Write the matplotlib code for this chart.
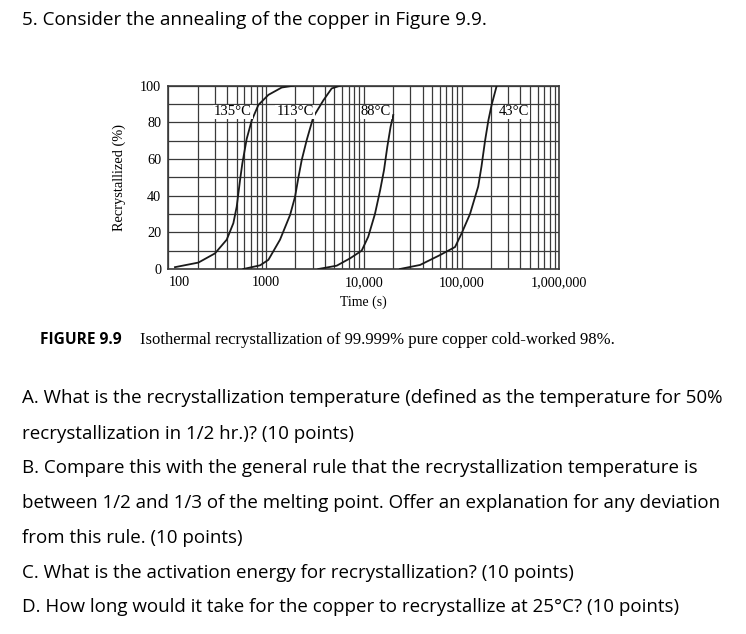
import matplotlib
matplotlib.use("Agg")
import matplotlib.pyplot as plt
from matplotlib.ticker import FixedLocator, NullFormatter

# curves (time in s, % recrystallized)
t135 = [117, 203, 300, 396, 463, 501, 542, 572, 634, 713, 835, 1057, 1445, 1900]
p135 = [1, 3.5, 8.5, 16, 25, 34, 48.5, 57.6, 71, 81, 89.5, 95, 99, 100]

t113 = [586, 869, 1057, 1390, 1762, 1982, 2144, 2318, 2608, 3050, 3856, 4690, 5710]
p113 = [0, 2, 5, 16, 29.5, 39.5, 50, 59.5, 70.4, 83, 92, 98.5, 100]

t88 = [3430, 5280, 7230, 9510, 11100, 13000, 14700, 16100, 17400, 18800, 20000]
p88 = [0, 1.8, 5.8, 10, 17.6, 30, 43, 54, 66.7, 77.6, 84]

t43 = [23400, 37600, 60200, 85800, 100300, 122000, 148000, 160000, 174000,
       188000, 203000, 229000]
p43 = [0, 2.2, 7.6, 12, 19.5, 30, 45, 56, 70, 81, 89.5, 100]

curves = [(t135, p135), (t113, p113), (t88, p88), (t43, p43)]
labels = ["135°C", "113°C", "88°C", "43°C"]
label_t = [459, 1977, 13340, 344000]
label_p = 85.7

xticks = [100, 1000, 10000, 100000, 1000000]
xticklabels = ["100", "1000", "10,000", "100,000", "1,000,000"]
yticks = [0, 20, 40, 60, 80, 100]

question = "5. Consider the annealing of the copper in Figure 9.9."
caption_head = "FIGURE 9.9"
caption = "Isothermal recrystallization of 99.999% pure copper cold-worked 98%."
lines = [
    "A. What is the recrystallization temperature (defined as the temperature for 50%",
    "recrystallization in 1/2 hr.)? (10 points)",
    "B. Compare this with the general rule that the recrystallization temperature is",
    "between 1/2 and 1/3 of the melting point. Offer an explanation for any deviation",
    "from this rule. (10 points)",
    "C. What is the activation energy for recrystallization? (10 points)",
    "D. How long would it take for the copper to recrystallize at 25°C? (10 points)",
]
line_y = [398, 434, 468, 503, 538, 573, 607]

W, H = 746, 634
fig = plt.figure(figsize=(W / 100, H / 100), dpi=100)
fig.patch.set_facecolor("white")

def fx(px):
    return px / W

def fy(py):
    return 1 - py / H

serif = "Liberation Serif"
sans = "Open Sans"
gridc = "#3a3a3a"

ax = fig.add_axes([fx(168.3), fy(269), fx(559.3) - fx(168.3), fy(85.7) - fy(269)])
ax.set_xscale("log")
ax.set_xlim(100, 1e6)
ax.set_ylim(0, 100)

minor = [m * 10 ** d for d in range(2, 6) for m in range(2, 10)]
ax.xaxis.set_major_locator(FixedLocator(xticks))
ax.xaxis.set_minor_locator(FixedLocator(minor))
ax.xaxis.set_minor_formatter(NullFormatter())
ax.set_yticks(range(0, 101, 10), minor=False)
ax.set_yticklabels([str(v) if v in yticks else "" for v in range(0, 101, 10)],
                   fontfamily=serif, fontsize=10.3)
ax.set_xticklabels(xticklabels, fontfamily=serif, fontsize=10.3)
ax.get_xticklabels()[0].set_horizontalalignment("left")
ax.tick_params(which="both", length=0, pad=5)
ax.grid(True, which="both", color=gridc, lw=0.9)
for s in ax.spines.values():
    s.set_color(gridc)
    s.set_linewidth(1.2)

for t, p in curves:
    ax.plot(t, p, color="#1a1a1a", lw=1.3, zorder=3)

for lab, lt in zip(labels, label_t):
    ax.text(lt, label_p, lab, fontfamily=serif, fontsize=10.5, ha="center", va="center",
            zorder=4, bbox=dict(facecolor="white", edgecolor="none", pad=0.6))

ax.set_xlabel("Time (s)", fontfamily=serif, fontsize=10, labelpad=5)
ax.set_ylabel("Recrystallized (%)", fontfamily=serif, fontsize=10.4, labelpad=10)

fig.text(fx(22), fy(20), question, fontfamily=sans, fontsize=13.6, va="center")
fig.text(fx(40), fy(340), caption_head, fontfamily=sans, fontsize=11.2,
         fontweight="bold", va="center")
fig.text(fx(140), fy(340), caption, fontfamily=serif, fontsize=12, va="center")
for txt, y in zip(lines, line_y):
    fig.text(fx(22), fy(y), txt, fontfamily=sans, fontsize=13.5, va="center")

fig.savefig("out.png", dpi=100)
